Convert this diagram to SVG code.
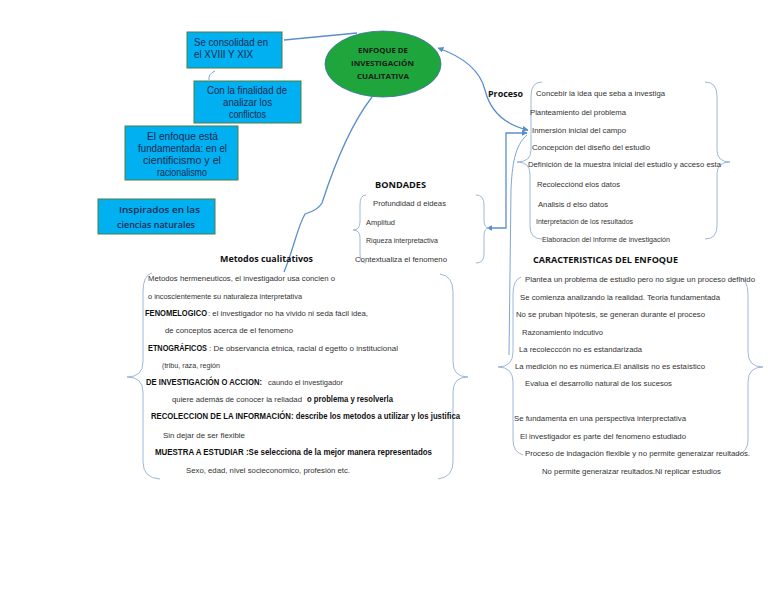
<svg xmlns="http://www.w3.org/2000/svg" width="768" height="594" viewBox="0 0 768 594">
<style>
.bg{fill:#ffffff}
.box{fill:#00B0F0;stroke:#4A7F45;stroke-width:1}
.ell{fill:#1EA63C;stroke:#3D6FA8;stroke-width:0.8}
.bt{font-family:"Liberation Sans",Arial,sans-serif;font-size:11px;fill:#1F2A50}
.bt4{font-family:"Open Sans",sans-serif;font-weight:600;font-size:9.5px;fill:#1F2A50}
.et{font-family:"Open Sans",sans-serif;font-weight:bold;font-size:7.5px;fill:#1a1a1a}
.h{font-family:"Open Sans",sans-serif;font-weight:bold;font-size:9.5px;fill:#111}
.t{font-family:"Liberation Sans",Arial,sans-serif;font-size:7.5px;fill:#333}
.tb{font-family:"Liberation Sans",Arial,sans-serif;font-size:8.5px;font-weight:bold;fill:#111}
.br{fill:none;stroke:#9DB8DC;stroke-width:1}
.cn{fill:none;stroke:#5B8FCC;stroke-width:1.3}
.cnt{fill:none;stroke:#7FA6D6;stroke-width:1}
</style>
<defs>
<marker id="ah" viewBox="0 0 10 10" refX="9" refY="5" markerWidth="6" markerHeight="6" orient="auto-start-reverse" markerUnits="userSpaceOnUse">
<path d="M0,0 L10,5 L0,10 z" fill="#5B8FCC"/>
</marker>
</defs>
<rect class="bg" x="0" y="0" width="768" height="594"/>

<g id="connectors">
<line class="cn" x1="284" y1="40" x2="357" y2="33"/>
<path class="cnt" d="M215,71 Q208,74 209,80"/>
<path class="cn" d="M372,97 C348,128 332,172 322,203 Q318,210 305,214 C297,228 295,245 284,272"/>
<path class="cn" d="M438,48 Q478,62 485,90 Q493,122 528,130" marker-start="url(#ah)" marker-end="url(#ah)"/>
<path class="cn" d="M487,228 L506,228 L506,133 L527,133" marker-start="url(#ah)" marker-end="url(#ah)"/>
<path class="cnt" d="M527,135 C515,145 512,165 511,190 L509,355"/>
</g>

<g id="n-ellipse">
<ellipse class="ell" cx="383" cy="64" rx="58" ry="33"/>
<text class="et" x="358" y="53" textLength="50" lengthAdjust="spacingAndGlyphs">ENFOQUE DE</text>
<text class="et" x="351" y="66" textLength="63" lengthAdjust="spacingAndGlyphs">INVESTIGACIÓN</text>
<text class="et" x="357" y="79" textLength="52" lengthAdjust="spacingAndGlyphs">CUALITATIVA</text>
</g>

<g id="n-box1">
<rect class="box" x="187" y="32" width="95" height="36"/>
<text class="bt" x="194" y="46" textLength="74" lengthAdjust="spacingAndGlyphs">Se consolidad en</text>
<text class="bt" x="194" y="58" textLength="59" lengthAdjust="spacingAndGlyphs">el XVIII Y XIX</text>
</g>

<g id="n-box2">
<rect class="box" x="194" y="81" width="107" height="42"/>
<text class="bt" x="207" y="94" textLength="80" lengthAdjust="spacingAndGlyphs">Con la finalidad de</text>
<text class="bt" x="223" y="106" textLength="49" lengthAdjust="spacingAndGlyphs">analizar los</text>
<text class="bt" x="229" y="118" textLength="37" lengthAdjust="spacingAndGlyphs">conflictos</text>
</g>

<g id="n-box3">
<rect class="box" x="125" y="126" width="113" height="54"/>
<text class="bt" x="147" y="140" textLength="71" lengthAdjust="spacingAndGlyphs">El enfoque está</text>
<text class="bt" x="138" y="152" textLength="89" lengthAdjust="spacingAndGlyphs">fundamentada: en el</text>
<text class="bt" x="143" y="164" textLength="78" lengthAdjust="spacingAndGlyphs">cientificismo y el</text>
<text class="bt" x="157" y="176" textLength="50" lengthAdjust="spacingAndGlyphs">racionalismo</text>
</g>

<g id="n-box4">
<rect class="box" x="98" y="199" width="117" height="35"/>
<text class="bt4" x="119" y="212.5" textLength="81" lengthAdjust="spacingAndGlyphs">Inspirados en las</text>
<text class="bt4" x="117" y="227.5" textLength="78" lengthAdjust="spacingAndGlyphs">ciencias naturales</text>
</g>

<g id="n-proceso">
<text class="h" x="488" y="96.5" textLength="35" lengthAdjust="spacingAndGlyphs">Proceso</text>
<path class="br" d="M542,82 Q531,82 531,96 L531,150 Q531,162 517,162 Q530,162 530,174 L530,226 Q530,239 542,239"/>
<path class="br" d="M705,82 Q717,82 717,96 L717,150 Q717,162 730,162 Q717,162 717,174 L717,226 Q717,239 705,239"/>
<text class="t" x="536" y="95.7" textLength="129" lengthAdjust="spacingAndGlyphs">Concebir la idea que seba a investiga</text>
<text class="t" x="530" y="114.7" textLength="96" lengthAdjust="spacingAndGlyphs">Planteamiento del problema</text>
<text class="t" x="532" y="132.7" textLength="94" lengthAdjust="spacingAndGlyphs">Inmersión inicial del campo</text>
<text class="t" x="532" y="149.7" textLength="118" lengthAdjust="spacingAndGlyphs">Concepción del diseño del estudio</text>
<text class="t" x="528" y="166.7" textLength="193" lengthAdjust="spacingAndGlyphs">Definición de la muestra inicial del estudio y acceso esta</text>
<text class="t" x="537" y="186.7" textLength="83" lengthAdjust="spacingAndGlyphs">Recolecciónd elos datos</text>
<text class="t" x="538" y="206.7" textLength="70" lengthAdjust="spacingAndGlyphs">Analisis d elso datos</text>
<text class="t" x="536" y="223.7" textLength="97" lengthAdjust="spacingAndGlyphs">Interpretación de los resultados</text>
<text class="t" x="542" y="241.7" textLength="128" lengthAdjust="spacingAndGlyphs">Elaboracion del informe de investigación</text>
</g>

<g id="n-bondades">
<text class="h" x="375" y="187.5" textLength="51" lengthAdjust="spacingAndGlyphs">BONDADES</text>
<path class="br" d="M366,195 Q360,195 360,205 L360,222 Q360,230 353,230 Q360,230 360,238 L360,254 Q360,263 366,263"/>
<path class="br" d="M476,195 Q484,195 484,205 L484,220 Q484,228 489,228 Q484,228 484,236 L484,254 Q484,263 476,263"/>
<text class="t" x="373" y="205.7" textLength="73" lengthAdjust="spacingAndGlyphs">Profundidad d eideas</text>
<text class="t" x="366" y="224.7" textLength="29" lengthAdjust="spacingAndGlyphs">Amplitud</text>
<text class="t" x="366" y="242.7" textLength="72" lengthAdjust="spacingAndGlyphs">Riqueza interpretactiva</text>
<text class="t" x="355" y="261.7" textLength="92" lengthAdjust="spacingAndGlyphs">Contextualiza el fenomeno</text>
</g>

<g id="n-metodos">
<text class="h" x="220" y="261.5" textLength="93" lengthAdjust="spacingAndGlyphs">Metodos cualitativos</text>
<path class="br" d="M152,273 Q143,275 143,292 L143,362 Q143,377 127,377 Q143,377 143,392 L143,462 Q143,478 160,479"/>
<path class="br" d="M440,274 Q453,276 453,292 L453,362 Q453,377 468,377 Q453,377 453,392 L453,462 Q453,477 438,479"/>
<text class="t" x="148" y="280.7" textLength="187" lengthAdjust="spacingAndGlyphs">Metodos hermeneuticos, el investigador usa concien o</text>
<text class="t" x="148" y="298.7" textLength="154" lengthAdjust="spacingAndGlyphs">o incoscientemente su naturaleza   interpretativa</text>
<text class="tb" x="145" y="316.2" textLength="62" lengthAdjust="spacingAndGlyphs">FENOMELOGICO</text>
<text class="t" x="208" y="315.7" textLength="160" lengthAdjust="spacingAndGlyphs">: el investigador no ha vivido ni seda fácil idea,</text>
<text class="t" x="165" y="332.7" textLength="128" lengthAdjust="spacingAndGlyphs">de conceptos acerca de el fenomeno</text>
<text class="tb" x="148" y="351.2" textLength="59" lengthAdjust="spacingAndGlyphs">ETNOGRÁFICOS</text>
<text class="t" x="209" y="350.7" textLength="189" lengthAdjust="spacingAndGlyphs">: De observancia étnica, racial d egetto o institucional</text>
<text class="t" x="162" y="367.7" textLength="58" lengthAdjust="spacingAndGlyphs">(tribu, raza, región</text>
<text class="tb" x="146" y="385.2" textLength="116" lengthAdjust="spacingAndGlyphs">DE INVESTIGACIÓN O ACCION:</text>
<text class="t" x="268" y="384.7" textLength="75" lengthAdjust="spacingAndGlyphs">caundo el investigador</text>
<text class="t" x="172" y="401.7" textLength="130" lengthAdjust="spacingAndGlyphs">quiere además de conocer la reliadad</text>
<text class="tb" x="307" y="402.2" textLength="86" lengthAdjust="spacingAndGlyphs">o problema y resolverla</text>
<text class="tb" x="151" y="419.2" textLength="309" lengthAdjust="spacingAndGlyphs">RECOLECCION DE LA INFORMACIÓN: describe los metodos a utilizar y los justifica</text>
<text class="t" x="163" y="437.7" textLength="82" lengthAdjust="spacingAndGlyphs">Sin dejar de ser flexible</text>
<text class="tb" x="155" y="455.2" textLength="277" lengthAdjust="spacingAndGlyphs">MUESTRA A ESTUDIAR  :Se selecciona de la mejor manera  representados</text>
<text class="t" x="186" y="472.7" textLength="164" lengthAdjust="spacingAndGlyphs">Sexo, edad, nivel socieconomico, profesión etc.</text>
</g>

<g id="n-caracteristicas">
<text class="h" x="533" y="262.5" textLength="145" lengthAdjust="spacingAndGlyphs">CARACTERISTICAS DEL ENFOQUE</text>
<path class="br" d="M521,277 Q513,280 513,294 L513,352 Q513,367 498,367 Q513,367 513,382 L513,440 Q513,452 523,455"/>
<path class="br" d="M739,277 Q748,280 748,294 L748,352 Q748,367 763,367 Q748,367 748,382 L748,440 Q748,452 737,455"/>
<text class="t" x="525" y="282.2" textLength="230" lengthAdjust="spacingAndGlyphs">Plantea un problema de estudio pero no sigue un proceso definido</text>
<text class="t" x="520" y="299.7" textLength="200" lengthAdjust="spacingAndGlyphs">Se comienza analizando la realidad. Teoria fundamentada</text>
<text class="t" x="516" y="316.7" textLength="189" lengthAdjust="spacingAndGlyphs">No se pruban hipótesis, se generan durante el proceso</text>
<text class="t" x="522" y="334.7" textLength="81" lengthAdjust="spacingAndGlyphs">Razonamiento indcutivo</text>
<text class="t" x="519" y="351.7" textLength="123" lengthAdjust="spacingAndGlyphs">La recolecccón no es estandarizada</text>
<text class="t" x="515" y="368.7" textLength="190" lengthAdjust="spacingAndGlyphs">La medición no es númerica.El análisis no es estaístico</text>
<text class="t" x="525" y="385.7" textLength="147" lengthAdjust="spacingAndGlyphs">Evalua el desarrollo natural de los sucesos</text>
<text class="t" x="514" y="420.7" textLength="172" lengthAdjust="spacingAndGlyphs">Se fundamenta en una perspectiva interprectativa</text>
<text class="t" x="520" y="438.7" textLength="166" lengthAdjust="spacingAndGlyphs">El investigador es parte del fenomeno estudiado</text>
<text class="t" x="525" y="455.7" textLength="225" lengthAdjust="spacingAndGlyphs">Proceso de indagación flexible y no permite generaizar reultados.</text>
<text class="t" x="542" y="473.7" textLength="179" lengthAdjust="spacingAndGlyphs">No permite generaizar reultados.Ni replicar estudios</text>
</g>
</svg>
